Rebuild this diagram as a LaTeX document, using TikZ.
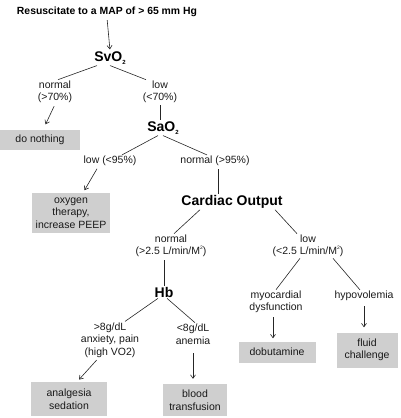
\documentclass[tikz,border=0pt]{standalone}
\usepackage{fontspec}
\setmainfont{Liberation Sans}
\usetikzlibrary{arrows.meta}
\newcommand{\tinysub}[1]{\raisebox{-0.4ex}{\fontsize{6}{6}\selectfont #1}}
\newcommand{\tinysup}[1]{\raisebox{0.9ex}{\fontsize{5}{5}\selectfont #1}}

\begin{document}
\begin{tikzpicture}[x=1pt,y=-1pt,
    head/.style={font=\bfseries\fontsize{14}{16}\selectfont, inner sep=1pt},
    lbl/.style={align=center, font=\fontsize{10.5}{12.5}\selectfont, text=black!90, inner sep=1pt},
    act/.style={fill=gray!38, align=center, inner sep=0pt, font=\fontsize{10.5}{12.5}\selectfont, text=black!90},
    line/.style={draw=black!85, line width=0.6pt},
    arr/.style={line, -{Straight Barb[length=3.5pt,width=5pt]}}]
        % Fix the page size
        \useasboundingbox (0,0) rectangle (400,418);
        % Draw title
        \node[font=\bfseries\fontsize{10.4}{12}\selectfont, inner sep=1pt] (title) at (107,12) {Resuscitate to a MAP of > 65 mm Hg};
        % Draw SvO2 level
        \node[head] (svo) at (110,58) {SvO\tinysub{2}};
        \node[lbl] (nrm1) at (55,92) {normal\\(>70\%)};
        \node[lbl] (low1) at (160,92) {low\\(<70\%)};
        \node[act, minimum width=80pt, minimum height=20pt] (nothing) at (40,140) {do nothing};
        % Draw SaO2 level
        \node[head] (sao) at (163,128) {SaO\tinysub{2}};
        \node[lbl] (low2) at (110,161) {low (<95\%)};
        \node[lbl] (nrm2) at (215,161) {normal (>95\%)};
        \node[act, minimum width=78pt, minimum height=40pt] (oxy) at (71,213) {oxygen\\therapy,\\increase PEEP};
        % Draw cardiac output level
        \node[head] (co) at (232,202) {Cardiac Output};
        \node[lbl] (nrm3) at (171,246) {normal\\(>2.5 L/min/M\tinysup{2})};
        \node[lbl] (low3) at (308,246) {low\\(<2.5 L/min/M\tinysup{2})};
        % Draw Hb level
        \node[head] (hb) at (164,292) {Hb};
        \node[lbl] (gt) at (110,340) {>8g/dL\\anxiety, pain\\(high VO2)};
        \node[lbl] (lt) at (193,334) {<8g/dL\\anemia};
        \node[act, minimum width=76pt, minimum height=34pt] (ana) at (69,399) {analgesia\\sedation};
        \node[act, minimum width=64pt, minimum height=32pt] (bld) at (195,400) {blood\\transfusion};
        % Draw low output branch
        \node[lbl] (myo) at (276,302) {myocardial\\dysfunction};
        \node[lbl] (hyp) at (364,296) {hypovolemia};
        \node[act, minimum width=77pt, minimum height=21pt] (dob) at (277,352) {dobutamine};
        \node[act, minimum width=61pt, minimum height=35pt] (fl) at (367,350) {fluid\\challenge};
        % Draw connectors
        \draw[arr, shorten <=2pt, shorten >=1pt] (title.south) -- (svo.north);
        \draw[line] ([xshift=-13pt]svo.south) -- ([xshift=3pt]nrm1.north);
        \draw[line] (svo.south) -- ([xshift=-14pt]low1.north);
        \draw[arr, shorten <=2pt, shorten >=6pt] (nrm1.south) -- ([xshift=3pt]nothing.north);
        \draw[line, shorten <=1pt] (low1.south) -- (low1.south |- sao.north);
        \draw[line] ([xshift=-5pt]sao.south) -- ([xshift=12pt]low2.north);
        \draw[line] (sao.south) -- ([xshift=-8pt]nrm2.north);
        \draw[arr, shorten <=2pt, shorten >=3pt] ([xshift=-12pt]low2.south) -- ([xshift=12pt]oxy.north);
        \draw[line, shorten <=2pt] ([xshift=3pt]nrm2.south) -- ([xshift=3pt]nrm2.south |- co.north);
        \draw[line] ([xshift=-32pt]co.south) -- ([xshift=3pt]nrm3.north);
        \draw[line] ([xshift=43pt]co.south) -- ([xshift=-11pt]low3.north);
        \draw[line, shorten <=2pt] (hb.north |- nrm3.south) -- (hb.north);
        \draw[line] ([xshift=-6pt]hb.south) -- ([xshift=15pt]gt.north);
        \draw[line] ([xshift=3pt]hb.south) -- ([xshift=2pt]lt.north);
        \draw[arr, shorten <=2pt, shorten >=3pt] ([xshift=-12pt]gt.south) -- ([xshift=8pt]ana.north);
        \draw[arr, shorten <=8pt, shorten >=5pt] (lt.south) -- (lt.south |- bld.north);
        \draw[line] ([xshift=-8pt]low3.south) -- (myo.north);
        \draw[line] ([xshift=25pt]low3.south) -- ([xshift=-4pt]hyp.north);
        \draw[arr, shorten <=3pt, shorten >=3pt] ([xshift=-3pt]myo.south) -- ([xshift=-3pt]myo.south |- dob.north);
        \draw[arr, shorten <=4pt, shorten >=5pt] (hyp.south) -- (hyp.south |- fl.north);
\end{tikzpicture}
\end{document}
